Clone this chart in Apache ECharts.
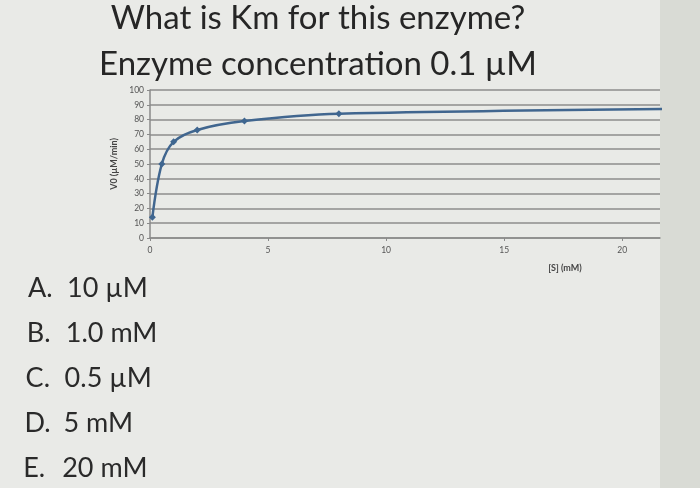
<!DOCTYPE html>
<html><head><meta charset="utf-8">
<script src="https://cdn.jsdelivr.net/npm/echarts@6/dist/echarts.min.js"></script>
<style>html,body{margin:0;padding:0;background:#e9eae7;}#c{width:700px;height:488px;}</style>
</head><body><div id="c"></div>
<script>
const titleLines = ["What is Km for this enzyme?", "Enzyme concentration 0.1 \u00b5M"];
const substrate = [0.1, 0.5, 1, 2, 4, 8, 32];
const velocity = [14, 50, 65, 73, 79, 84, 88.5];
const xTicks = [0, 5, 10, 15, 20];
const yTicks = [0, 10, 20, 30, 40, 50, 60, 70, 80, 90, 100];
const answerLetters = ["A.", "B.", "C.", "D.", "E."];
const answerValues = ["10 \u00b5M", "1.0 mM", "0.5 \u00b5M", "5 mM", "20 mM"];
const xAxisTitle = "[S] (mM)";
const yAxisTitle = "V0 (\u00b5M/min)";

const chart = echarts.init(document.getElementById('c'));
const font = 'Lato';
const texts = [];
titleLines.forEach((t, i) => {
  texts.push({type:'text', x: 318, y: 2 + i*46,
    style:{text: t, font: '33px ' + font, fill:'#262626', textAlign:'center', textVerticalAlign:'top'}});
});
answerLetters.forEach((l, i) => {
  const shift = i * 1.2;
  texts.push({type:'text', x: 28 - shift, y: 275 + i*45,
    style:{text: l, font: '27px ' + font, fill:'#2a2a2a', textVerticalAlign:'top'}});
  texts.push({type:'text', x: 67 - shift, y: 275 + i*45,
    style:{text: answerValues[i], font: '27px ' + font, fill:'#2a2a2a', textVerticalAlign:'top'}});
});
texts.push({type:'text', x: 565, y: 268,
  style:{text: xAxisTitle, font: 'bold 9px ' + font, fill:'#444', textAlign:'center', textVerticalAlign:'middle'}});

chart.setOption({
  backgroundColor: '#e9eae7',
  animation: false,
  graphic: [
    {type:'rect', x: 660, y: 0, shape:{width: 40, height: 488}, style:{fill:'#d9dbd5'}},
    ...texts
  ],
  grid: {left: 150, right: 40, top: 90, bottom: 250, containLabel: false, outerBoundsMode: 'none'},
  xAxis: {
    type: 'value', min: 0, max: 21.6, interval: 5,
    axisLine: {show: true, lineStyle:{color:'#8a8a8a', width: 1.5}},
    axisTick: {show: true, length: 3, lineStyle:{color:'#8a8a8a'}},
    axisLabel: {fontFamily: font, fontSize: 8.5, color:'#555', margin: 8, showMaxLabel: false,
      formatter: v => xTicks.includes(v) ? String(v) : ''},
    splitLine: {show: false}
  },
  yAxis: {
    type: 'value', min: 0, max: 100, interval: 10,
    name: yAxisTitle, nameLocation: 'middle', nameGap: 21, nameRotate: 90,
    nameTextStyle: {fontFamily: font, fontSize: 9, fontWeight: 'bold', color:'#444'},
    axisLine: {show: true, lineStyle:{color:'#8a8a8a', width: 1.5}},
    axisTick: {show: true, length: 3, inside: false, lineStyle:{color:'#8a8a8a'}},
    axisLabel: {fontFamily: font, fontSize: 8.5, color:'#555', margin: 6,
      formatter: v => yTicks.includes(v) ? String(v) : ''},
    splitLine: {show: true, lineStyle:{color:'#8c8c8c', width: 1.5}}
  },
  series: [{
    type: 'line', data: substrate.map((s, i) => [s, velocity[i]]),
    smooth: 0.35, clip: true,
    symbol: 'diamond', symbolSize: 7,
    lineStyle: {color:'#41668f', width: 2.5},
    itemStyle: {color:'#3f6690'}
  }]
});
</script></body></html>
